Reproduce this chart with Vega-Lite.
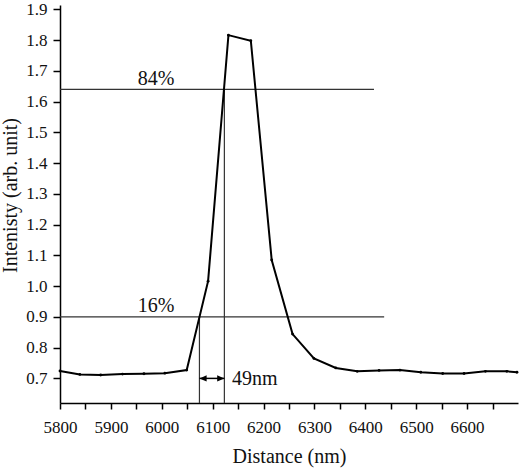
{
  "$schema": "https://vega.github.io/schema/vega-lite/v6.json",
  "description": "Intensity profile across distance with 16%/84% levels and 49 nm width",
  "autosize": "none",
  "padding": {"left": 60, "top": 5, "right": 2, "bottom": 65},
  "width": 458,
  "height": 398,
  "background": "white",
  "config": {
    "view": {"stroke": null},
    "font": "Liberation Serif",
    "axis": {
      "domainColor": "black",
      "domainWidth": 1.5,
      "tickColor": "black",
      "tickWidth": 1.5,
      "grid": false,
      "labelFont": "Liberation Serif",
      "labelFontSize": 17,
      "labelColor": "#111",
      "titleFont": "Liberation Serif",
      "titleFontSize": 20,
      "titleFontWeight": "normal",
      "titleColor": "#111"
    }
  },
  "datasets": {
    "profile": [
      {"distance": 5800, "intensity": 0.724},
      {"distance": 5839, "intensity": 0.713},
      {"distance": 5880, "intensity": 0.711},
      {"distance": 5923, "intensity": 0.714},
      {"distance": 5965, "intensity": 0.715},
      {"distance": 6006, "intensity": 0.717},
      {"distance": 6049, "intensity": 0.727},
      {"distance": 6091, "intensity": 1.016},
      {"distance": 6131, "intensity": 1.816},
      {"distance": 6175, "intensity": 1.798},
      {"distance": 6216, "intensity": 1.085},
      {"distance": 6257, "intensity": 0.844},
      {"distance": 6299, "intensity": 0.765},
      {"distance": 6342, "intensity": 0.734},
      {"distance": 6384, "intensity": 0.723},
      {"distance": 6427, "intensity": 0.726},
      {"distance": 6468, "intensity": 0.727},
      {"distance": 6509, "intensity": 0.72},
      {"distance": 6552, "intensity": 0.716},
      {"distance": 6594, "intensity": 0.716},
      {"distance": 6636, "intensity": 0.723},
      {"distance": 6678, "intensity": 0.723},
      {"distance": 6698, "intensity": 0.72}
    ],
    "levels": [
      {"x": 5800, "x2": 6417, "y": 1.64},
      {"x": 5800, "x2": 6437, "y": 0.9}
    ],
    "verticals": [
      {"x": 6074, "y": 0.62, "y2": 0.9},
      {"x": 6123, "y": 0.62, "y2": 1.64}
    ],
    "labels": [
      {"x": 5989, "y": 1.654, "text": "84%"},
      {"x": 5989, "y": 0.917, "text": "16%"}
    ],
    "arrow": [{"x": 6074, "x2": 6123, "y": 0.7}],
    "heads": [
      {"x": 6074, "y": 0.7, "side": "left"},
      {"x": 6123, "y": 0.7, "side": "right"}
    ],
    "width_label": [{"x": 6138, "y": 0.678, "text": "49nm"}]
  },
  "layer": [
    {
      "data": {"name": "levels"},
      "mark": {"type": "rule", "color": "#333", "strokeWidth": 1.2},
      "encoding": {
        "x": {"field": "x", "type": "quantitative",
          "scale": {"domain": [5800, 6700], "nice": false, "zero": false},
          "axis": {
            "title": "Distance (nm)",
            "values": [5800, 5850, 5900, 5950, 6000, 6050, 6100, 6150, 6200, 6250, 6300, 6350, 6400, 6450, 6500, 6550, 6600, 6650],
            "tickCount": 40,
            "tickSize": 6,
            "format": "d",
            "labelExpr": "datum.value % 100 === 0 ? datum.label : ''",
            "labelOverlap": false,
            "labelFlush": false,
            "labelPadding": 10,
            "titleY": 53,
            "titleBaseline": "middle"
          }},
        "x2": {"field": "x2"},
        "y": {"field": "y", "type": "quantitative",
          "scale": {"domain": [0.62, 1.914], "nice": false, "zero": false},
          "axis": {
            "title": "Intenisty (arb. unit)",
            "values": [0.7, 0.8, 0.9, 1.0, 1.1, 1.2, 1.3, 1.4, 1.5, 1.6, 1.7, 1.8, 1.9],
            "tickCount": 40,
            "tickSize": 7,
            "format": ".1f",
            "labelOverlap": false,
            "labelFlush": false,
            "labelPadding": 6,
            "titleX": -50,
            "titleY": 190,
            "titleBaseline": "middle"
          }}
      }
    },
    {
      "data": {"name": "verticals"},
      "mark": {"type": "rule", "color": "#333", "strokeWidth": 1.2},
      "encoding": {
        "x": {"field": "x", "type": "quantitative"},
        "y": {"field": "y", "type": "quantitative"},
        "y2": {"field": "y2"}
      }
    },
    {
      "data": {"name": "profile"},
      "mark": {"type": "line", "color": "black", "strokeWidth": 2,
        "point": {"filled": true, "color": "black", "size": 8}},
      "encoding": {
        "x": {"field": "distance", "type": "quantitative"},
        "y": {"field": "intensity", "type": "quantitative"}
      }
    },
    {
      "data": {"name": "arrow"},
      "mark": {"type": "rule", "color": "black", "strokeWidth": 1.5},
      "encoding": {
        "x": {"field": "x", "type": "quantitative"},
        "x2": {"field": "x2"},
        "y": {"field": "y", "type": "quantitative"}
      }
    },
    {
      "data": {"name": "heads"},
      "mark": {"type": "point", "filled": true, "color": "black", "opacity": 1, "size": 64},
      "encoding": {
        "x": {"field": "x", "type": "quantitative"},
        "y": {"field": "y", "type": "quantitative"},
        "shape": {"field": "side", "type": "nominal",
          "scale": {"domain": ["left", "right"], "range": ["M0,0L1.8,-0.8L1.8,0.8Z", "M0,0L-1.8,-0.8L-1.8,0.8Z"]},
          "legend": null}
      }
    },
    {
      "data": {"name": "labels"},
      "mark": {"type": "text", "font": "Liberation Serif", "fontSize": 20, "color": "#111", "baseline": "alphabetic", "align": "center"},
      "encoding": {
        "x": {"field": "x", "type": "quantitative"},
        "y": {"field": "y", "type": "quantitative"},
        "text": {"field": "text"}
      }
    },
    {
      "data": {"name": "width_label"},
      "mark": {"type": "text", "font": "Liberation Serif", "fontSize": 20, "color": "#111", "baseline": "alphabetic", "align": "left"},
      "encoding": {
        "x": {"field": "x", "type": "quantitative"},
        "y": {"field": "y", "type": "quantitative"},
        "text": {"field": "text"}
      }
    }
  ]
}
